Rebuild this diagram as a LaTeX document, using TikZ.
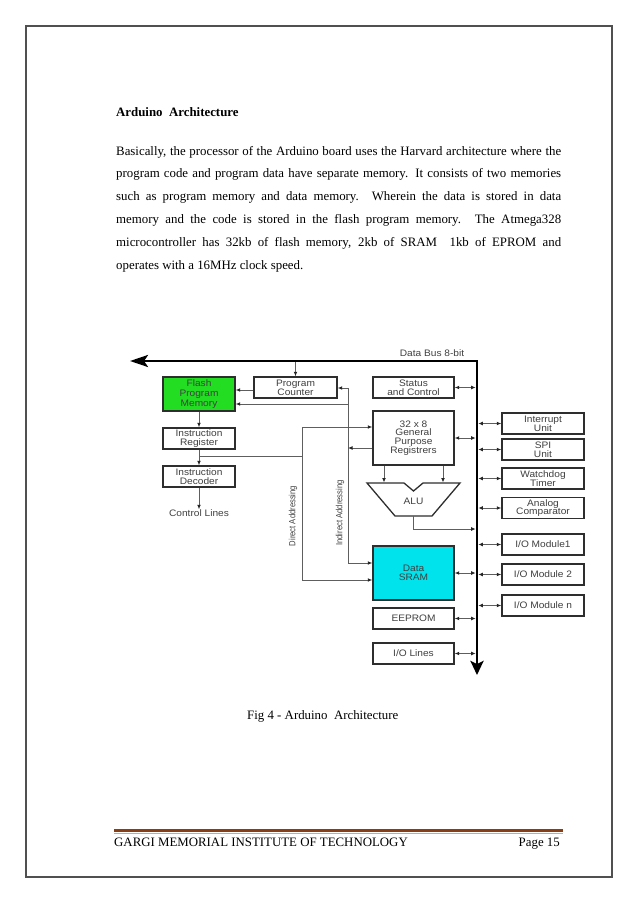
\documentclass[tikz,border=0pt]{standalone}
\usepackage{fontspec}
\setmainfont{Liberation Serif}
\newfontfamily\arialw[FakeStretch=1.08]{Liberation Sans}
\newfontfamily\arialn[FakeStretch=0.85]{Liberation Sans}
\usetikzlibrary{arrows.meta}
\definecolor{boxline}{HTML}{2E2E2E}
\definecolor{txtgray}{HTML}{404040}
\definecolor{lncol}{HTML}{5E5E5E}
\definecolor{flashgreen}{HTML}{22DD22}
\definecolor{sramcyan}{HTML}{00E3EC}
\definecolor{footbrown}{HTML}{8A3E14}
\definecolor{framecol}{HTML}{505050}
\begin{document}
\begin{tikzpicture}[x=1pt,y=-1pt,
  blk/.style={draw=boxline, line width=1.3pt, fill=white, inner sep=0pt, align=center, text=txtgray, font=\arialw\fontsize{9.4}{8.8}\selectfont},
  conn/.style={draw=lncol, line width=0.9pt},
  arr/.style={conn, -{Latex[length=4.5pt,width=3.8pt,color=black!85]}},
  biarr/.style={conn, {Latex[length=4.5pt,width=3.8pt,color=black!85]}-{Latex[length=4.5pt,width=3.8pt,color=black!85]}},
  bus/.style={draw=black, line width=2.7pt},
  body/.style={anchor=base west, inner sep=0pt, font=\fontsize{12.86}{15}\selectfont},
  lbl/.style={inner sep=0pt, text=txtgray, font=\arialw\fontsize{9.4}{8.8}\selectfont},
  rot/.style={inner sep=0pt, text=txtgray, rotate=90, font=\arialn\fontsize{9}{9}\selectfont},
  modbox/.style={blk, minimum width=82pt, minimum height=21pt},
  cbox/.style={blk, minimum width=81pt}
]
\useasboundingbox (0,0) rectangle (638,902);
% page frame
\draw[framecol, line width=1.3pt] (26,26) rectangle (612,877);

% text
\node[body] (head) at (116,116) {\bfseries Arduino\ \ Architecture};
\node[body] (p1) at (116,155.0) {\makebox[445pt][s]{Basically, the processor of the Arduino board uses the Harvard architecture where the}};
\node[body] (p2) at (116,177.8) {\makebox[445pt][s]{program code and program data have separate memory. It consists of two memories}};
\node[body] (p3) at (116,200.6) {\makebox[445pt][s]{such as program memory and data memory. Wherein the data is stored in data}};
\node[body] (p4) at (116,223.4) {\makebox[445pt][s]{memory and the code is stored in the flash program memory. The Atmega328}};
\node[body] (p5) at (116,246.2) {\makebox[445pt][s]{microcontroller has 32kb of flash memory, 2kb of SRAM\ \ 1kb of EPROM and}};
\node[body] (p6) at (116,269.0) {operates with a 16MHz clock speed.};

% bus
\coordinate (busL) at (130,361);
\coordinate (busC) at (477,361);
\coordinate (busB) at (477,675);
\draw[bus, line join=miter, {Stealth[length=18pt,width=12pt,inset=4pt]}-{Stealth[length=14pt,width=13pt,inset=3pt]}] (busL) -- (busC) -- (busB);
\node[lbl] (dbl) at (432,353) {Data Bus 8-bit};

% left column
\node[blk, fill=flashgreen, minimum width=72pt, minimum height=34pt, font=\arialw\fontsize{9.4}{10}\selectfont] (flash) at (199,394) {Flash\\Program\\Memory};
\node[blk, minimum width=83pt, minimum height=21pt] (pc) at (295.5,387.5) {Program\\Counter};
\node[blk, minimum width=72pt, minimum height=21pt] (ir) at (199,438.5) {Instruction\\Register};
\node[blk, minimum width=72pt, minimum height=21pt] (id) at (199,476.5) {Instruction\\Decoder};
\node[lbl] (ctl) at (199,513) {Control Lines};

% centre column
\node[cbox, minimum height=21pt] (status) at (413.5,387.5) {Status\\and Control};
\node[cbox, minimum height=54pt] (gpr) at (413.5,438) {32 x 8\\General\\Purpose\\Registrers};
\draw[draw=boxline, line width=1.3pt, fill=white, line join=miter] (367,483) -- (404,483) -- (413.5,491) -- (423,483) -- (460,483) -- (432,516) -- (395,516) -- cycle;
\node[lbl] (alu) at (413.5,501) {ALU};
\node[cbox, minimum height=54pt, fill=sramcyan] (sram) at (413.5,573) {Data\\SRAM};
\node[cbox, minimum height=21pt] (eeprom) at (413.5,618.5) {EEPROM};
\node[cbox, minimum height=21pt] (iol) at (413.5,653.5) {I/O Lines};

% right column
\node[modbox] (iu)  at (543,423.5) {Interrupt\\Unit};
\node[modbox] (spi) at (543,449.5) {SPI\\Unit};
\node[modbox] (wdt) at (543,478.5) {Watchdog\\Timer};
\node[modbox] (ac)  at (543,508) {Analog\\Comparator};
\node[modbox] (io1) at (543,544.5) {I/O Module1};
\node[modbox] (io2) at (543,574.5) {I/O Module 2};
\node[modbox] (ion) at (543,605.5) {I/O Module n};

% addressing labels
\node[rot] (dal) at (293,516) {Direct Addressing};
\node[rot] (ial) at (340,513) {Indirect Addressing};

% connectors: bus to modules
\foreach \m in {iu,spi,wdt,ac,io1,io2,ion}
  \draw[biarr, shorten <=1.3pt] (\m.west -| busC) -- (\m.west);
\foreach \m in {status,gpr,sram,eeprom,iol}
  \draw[biarr, shorten >=1.3pt] (\m.east) -- (\m.east -| busC);

% bus to program counter
\draw[arr, shorten <=1.3pt] (pc.north |- busC) -- (pc.north);
% program counter to flash
\draw[arr] ([yshift=-2.5pt]pc.west) -- ([yshift=-2.5pt]pc.west -| flash.east);
% flash to IR to ID to control lines
\draw[arr] (flash.south) -- (ir.north);
\draw[arr] (ir.south) -- (id.north);
\draw[arr] (id.south) -- (ctl.north);

% direct addressing
\coordinate (dirT) at (302,427);
\coordinate (dirI) at (302,456);
\coordinate (dirB) at (302,580);
\draw[conn] (dirT) -- (dirB);
\draw[conn] (dirI -| ir.south) -- (dirI);
\draw[arr] (dirT) -- (dirT -| gpr.west);
\draw[arr] (dirB) -- (dirB -| sram.west);

% indirect addressing
\coordinate (indT) at (348,388);
\coordinate (indF) at (348,404);
\coordinate (indG) at (348,448);
\coordinate (indB) at (348,563);
\draw[conn] (indT) -- (indB);
\draw[arr] (indT) -- (indT -| pc.east);
\draw[arr] (indF) -- (indF -| flash.east);
\draw[arr] (indG -| gpr.west) -- (indG);
\draw[arr] (indB) -- (indB -| sram.west);

% registers to ALU
\coordinate (aluA) at (384,482.5);
\coordinate (aluB) at (443,482.5);
\draw[arr] (gpr.south -| aluA) -- (aluA);
\draw[arr] (gpr.south -| aluB) -- (aluB);
% ALU to bus
\coordinate (aluOut) at (413.5,516);
\coordinate (aluBend) at (413.5,529);
\draw[arr, shorten >=1.3pt] (aluOut) -- (aluBend) -- (aluBend -| busC);

% caption and footer
\node[body] (cap) at (247,719) {Fig 4 - Arduino\ \ Architecture};
\draw[footbrown, line width=3.2pt] (114,830.5) -- (563,830.5);
\draw[footbrown!45, line width=0.7pt] (114,833.6) -- (563,833.6);
\node[body] (foot) at (114,846.5) {GARGI MEMORIAL INSTITUTE OF TECHNOLOGY};
\node[body, anchor=base east] (page) at (560,846.5) {Page 15};
\end{tikzpicture}
\end{document}
